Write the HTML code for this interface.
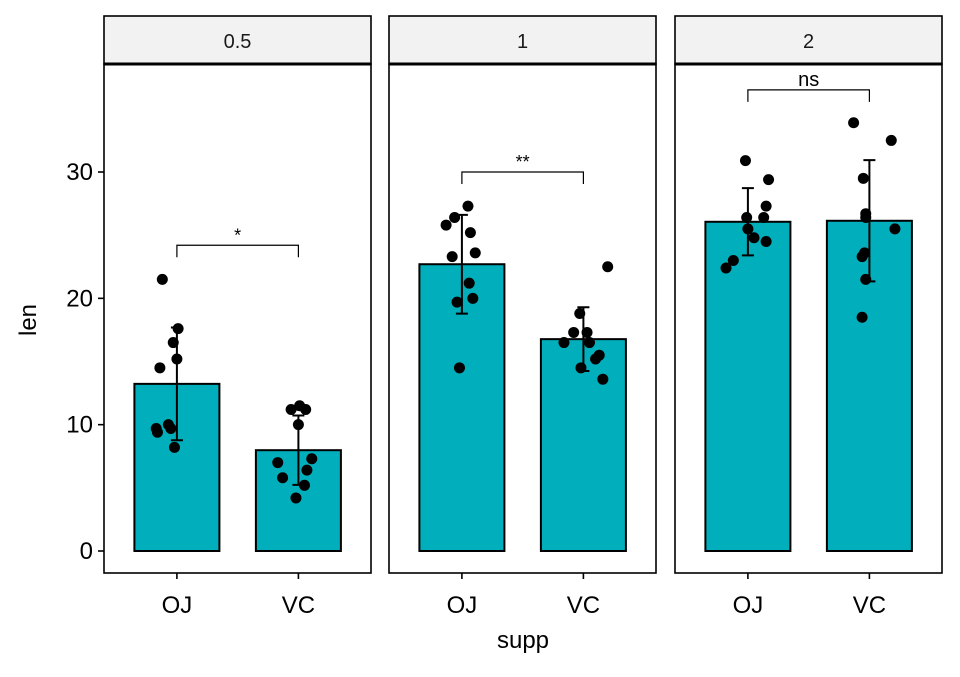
<!DOCTYPE html>
<html><head><meta charset="utf-8"><style>
body{margin:0;background:#fff}
text{font-family:"Liberation Sans",Arial,sans-serif}
</style></head><body>
<svg id="chart" width="960" height="672" xmlns="http://www.w3.org/2000/svg"></svg>
<script>
const doses=["0.5","1","2"];
const supps=["OJ","VC"];
const means=[[13.23,7.98],[22.70,16.77],[26.06,26.14]];
const sds=[[4.46,2.75],[3.91,2.52],[2.66,4.80]];
const ptsOJ05=[15.2,21.5,17.6,9.7,14.5,10.0,8.2,9.4,16.5,9.7];
const ptsVC05=[4.2,11.5,7.3,5.8,6.4,10.0,11.2,11.2,5.2,7.0];
const ptsOJ1=[19.7,23.3,23.6,26.4,20.0,25.2,25.8,21.2,14.5,27.3];
const ptsVC1=[16.5,16.5,15.2,17.3,22.5,17.3,13.6,14.5,18.8,15.5];
const ptsOJ2=[25.5,26.4,22.4,24.5,24.8,30.9,26.4,27.3,29.4,23.0];
const ptsVC2=[23.6,18.5,33.9,25.5,26.4,32.5,26.7,21.5,23.3,29.5];
const jitOJ05=[0,-0.12,0.01,-0.05,-0.14,-0.07,-0.02,-0.16,-0.03,-0.17];
const jitVC05=[-0.02,0.01,0.11,-0.13,0.07,0,0.06,-0.06,0.05,-0.17];
const jitOJ1=[-0.04,-0.08,0.11,-0.06,0.09,0.07,-0.13,0.06,-0.02,0.05];
const jitVC1=[-0.16,0.05,0.1,-0.08,0.2,0.03,0.16,-0.02,-0.03,0.13];
const jitOJ2=[0,-0.01,-0.18,0.15,0.05,-0.02,0.13,0.15,0.17,-0.12];
const jitVC2=[-0.04,-0.06,-0.13,0.21,-0.03,0.18,-0.03,-0.03,-0.06,-0.05];
const labels=["*","**","ns"];
const bracketY=[24.2,30.0,36.5];
const yTicks=[0,10,20,30];
const pts=[[ptsOJ05,ptsVC05],[ptsOJ1,ptsVC1],[ptsOJ2,ptsVC2]];
const jit=[[jitOJ05,jitVC05],[jitOJ1,jitVC1],[jitOJ2,jitVC2]];
const svg=document.getElementById('chart');const NS="http://www.w3.org/2000/svg";
function el(t,a,p){const e=document.createElementNS(NS,t);for(const k in a)e.setAttribute(k,a[k]);(p||svg).appendChild(e);return e;}
const panelX=[104,389,675],panelW=267,plotTop=64,plotBot=573;
const y=v=>551-v*12.633;
const x=(p,c)=>panelX[p]+(0.6+c)*121.5;
for(let p=0;p<3;p++){
 const g=el('g',{});
 
 
 const s=el('rect',{x:panelX[p],y:16,width:panelW,height:48,fill:'#f2f2f2',stroke:'#000','stroke-width':1.6},g);
 
 
 el('line',{x1:panelX[p],x2:panelX[p]+panelW,y1:64,y2:64,stroke:'#000','stroke-width':3},g);
 const st=el('text',{x:panelX[p]+panelW/2,y:48,'text-anchor':'middle','font-size':20,fill:'#1a1a1a'},g);st.textContent=doses[p];
 
 
 el('rect',{x:panelX[p],y:plotTop,width:panelW,height:plotBot-plotTop,fill:'none',stroke:'#000','stroke-width':1.6},g);
 for(let c=0;c<2;c++){
  const cx=x(p,c);
  const b=el('rect',{x:cx-42.5,y:y(means[p][c]),width:85,height:y(0)-y(means[p][c]),fill:'#00AFBB',stroke:'#000','stroke-width':2},g);
  
  
  pts[p][c].forEach((v,i)=>{const d=el('circle',{cx:cx+jit[p][c][i]*121.5,cy:y(v),r:5.5,fill:'#000'},g);
   
   });
  const lo=y(means[p][c]-sds[p][c]),hi=y(means[p][c]+sds[p][c]);
  const e=el('path',{d:`M${cx},${lo}V${hi}M${cx-6},${lo}H${cx+6}M${cx-6},${hi}H${cx+6}`,stroke:'#000','stroke-width':2,fill:'none'},g);
  
  
  const xt=el('text',{x:cx,y:613,'text-anchor':'middle','font-size':24,fill:'#000'});xt.textContent=supps[c];
  
  
  el('line',{x1:cx,x2:cx,y1:plotBot,y2:plotBot+6,stroke:'#000','stroke-width':1.6});
 }
 const by=y(bracketY[p]),x1=x(p,0),x2=x(p,1);
 const br=el('path',{d:`M${x1},${by+12}V${by}H${x2}V${by+12}`,stroke:'#000','stroke-width':1.2,fill:'none'},g);
 
 
 const lt=el('text',{x:(x1+x2)/2,y:by-4,'text-anchor':'middle','font-size':labels[p]=='ns'?20:18,fill:'#000'},g);lt.textContent=labels[p];
 
 
}
yTicks.forEach(v=>{el('line',{x1:98,x2:104,y1:y(v),y2:y(v),stroke:'#000','stroke-width':1.6});
 const t=el('text',{x:93,y:y(v)+8,'text-anchor':'end','font-size':24,fill:'#000'});t.textContent=v;
 
 });
const xl=el('text',{x:523,y:648,'text-anchor':'middle','font-size':24,fill:'#000'});xl.textContent='supp';


const yl=el('text',{x:0,y:0,'text-anchor':'middle','font-size':24,fill:'#000',transform:'translate(36,320) rotate(-90)'});yl.textContent='len';


</script>
</body></html>
